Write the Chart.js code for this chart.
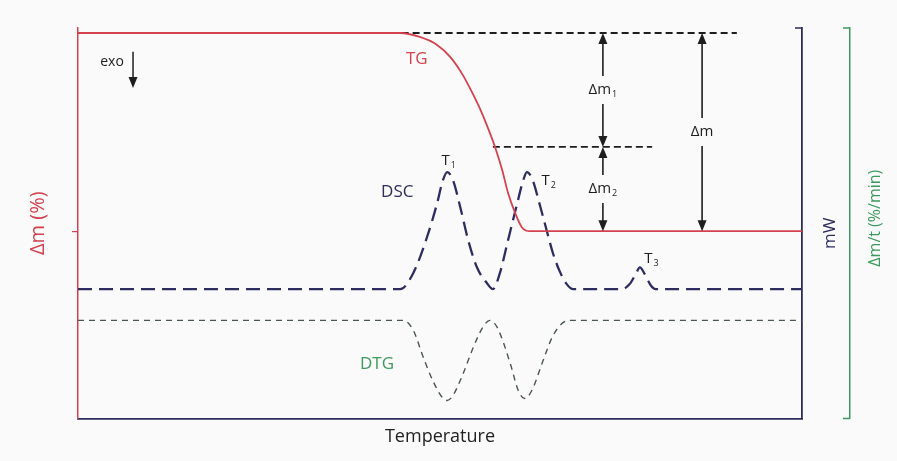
<!DOCTYPE html>
<html>
<head>
<meta charset="utf-8">
<script src="https://cdn.jsdelivr.net/npm/chart.js@4.4.1/dist/chart.umd.min.js"></script>
<style>
  html, body { margin: 0; padding: 0; background: #fafafa; }
  #wrap { width: 897px; height: 461px; }
</style>
</head>
<body>
<div id="wrap"><canvas id="myChart"></canvas></div>
<script>
// TG curve (mass %) against temperature
var tgTemp = [0, 445, 472, 496, 514, 530, 544, 558, 569, 576, 586, 594, 604, 613, 624, 1000];
var tgMass = [100, 100, 99.2, 97.6, 95.2, 91.9, 88.1, 83.8, 79.8, 77.0, 72.3, 67.7, 63.6, 60.8, 60, 60];

// DSC curve (mW)
var dscTemp = [0, 445, 463, 482, 496, 504, 510, 518, 528, 539, 551, 565, 573,
               583, 593, 606, 615, 620, 627, 638, 648, 656, 666, 675, 684,
               751, 762, 771, 776, 783, 791, 798, 1000];
var dscHeat = [3.31, 3.31, 3.72, 4.64, 5.51, 6.10, 6.31, 6.10, 5.41, 4.56, 3.87, 3.46, 3.31,
               3.74, 4.49, 5.46, 6.10, 6.31, 6.15, 5.46, 4.77, 4.23, 3.74, 3.44, 3.31,
               3.31, 3.44, 3.72, 3.87, 3.69, 3.41, 3.31, 3.31];

// DTG curve (%/min)
var dtgTemp = [0, 449, 463, 477, 490, 503, 510, 518, 532, 546, 559, 569,
               579, 597, 608, 617, 627, 641, 655, 669, 680, 1000];
var dtgRate = [-7.49, -7.49, -7.74, -8.44, -9.03, -9.46, -9.54, -9.41, -8.85, -8.18, -7.67, -7.49,
               -7.67, -8.59, -9.28, -9.49, -9.28, -8.59, -7.92, -7.56, -7.49, -7.49];

// mass levels and the steps between them
var massStart = 100, massMid = 77, massEnd = 60;
var stepTemp = [725, 862];   // where the Δm arrows stand
var levelTop = [447, 910];   // dashed line at massStart
var levelMid = [573, 793];   // dashed line at massMid

var red = '#d3424e', navy = '#2d2d5f', green = '#3d9a5e', ink = '#1e1e1e';
var FONT = "'Open Sans', sans-serif";

function pts(xs, ys) {
    return xs.map(function (x, i) { return {x: x, y: ys[i]}; });
}

function drawText(ctx, txt, sub, x, y, size, color) {
    ctx.font = size + 'px ' + FONT;
    var w = ctx.measureText(txt).width;
    var sw = 0, ss = Math.round(size * 0.62);
    if (sub) { ctx.font = ss + 'px ' + FONT; sw = ctx.measureText(sub).width + 1; }
    var x0 = x - (w + sw) / 2;
    ctx.fillStyle = color;
    ctx.textAlign = 'left';
    ctx.textBaseline = 'middle';
    ctx.font = size + 'px ' + FONT;
    ctx.fillText(txt, x0, y);
    if (sub) {
        ctx.font = ss + 'px ' + FONT;
        ctx.fillText(sub, x0 + w + 1, y + size * 0.32);
    }
}

function head(ctx, x, y, dir) {
    // tip at (x, y); dir -1 points up, +1 points down
    ctx.beginPath();
    ctx.moveTo(x, y);
    ctx.lineTo(x - 4.5, y - dir * 11);
    ctx.lineTo(x + 4.5, y - dir * 11);
    ctx.closePath();
    ctx.fill();
}

var notes = {
    id: 'notes',
    afterDatasetsDraw: function (chart) {
        var ctx = chart.ctx, s = chart.scales;
        var X = function (v) { return s.x.getPixelForValue(v); };
        ctx.save();

        // curve labels
        drawText(ctx, 'TG', null, X(468), s.y.getPixelForValue(94.7), 17, red);
        drawText(ctx, 'DSC', null, X(441), s.y2.getPixelForValue(5.8), 17, navy);
        drawText(ctx, 'DTG', null, X(413), s.y3.getPixelForValue(-8.62), 17, green);
        drawText(ctx, 'T', '1', X(512), s.y2.getPixelForValue(6.6), 15, ink);
        drawText(ctx, 'T', '2', X(650), s.y2.getPixelForValue(6.08), 15, ink);
        drawText(ctx, 'T', '3', X(792), s.y2.getPixelForValue(4.1), 15, ink);

        // exo arrow
        drawText(ctx, 'exo', null, X(47), s.y.getPixelForValue(94.1), 14, ink);
        ctx.strokeStyle = ink; ctx.fillStyle = ink; ctx.lineWidth = 1.5;
        var ax = X(76), ay1 = s.y.getPixelForValue(96.2), ay2 = s.y.getPixelForValue(88.9);
        ctx.beginPath(); ctx.moveTo(ax, ay1); ctx.lineTo(ax, ay2 - 6); ctx.stroke();
        head(ctx, ax, ay2, 1);

        // Δm arrows
        var steps = [
            {x: stepTemp[0], a: massStart, b: massMid, t: 'Δm', sub: '1'},
            {x: stepTemp[0], a: massMid, b: massEnd, t: 'Δm', sub: '2'},
            {x: stepTemp[1], a: massStart, b: massEnd, t: 'Δm', sub: null}
        ];
        steps.forEach(function (st) {
            var px = X(st.x), y1 = s.y.getPixelForValue(st.a), y2 = s.y.getPixelForValue(st.b);
            var mid = (y1 + y2) / 2, gap = 14;
            ctx.strokeStyle = ink; ctx.fillStyle = ink; ctx.lineWidth = 1.6;
            ctx.beginPath();
            ctx.moveTo(px, y1 + 8); ctx.lineTo(px, mid - gap);
            ctx.moveTo(px, mid + gap); ctx.lineTo(px, y2 - 8);
            ctx.stroke();
            head(ctx, px, y1, -1);
            head(ctx, px, y2, 1);
            drawText(ctx, st.t, st.sub, px, mid, 15, ink);
        });

        // axis end caps
        ctx.lineWidth = 1.5;
        ctx.strokeStyle = navy;
        ctx.beginPath(); ctx.moveTo(s.y2.left - 7, s.y2.top); ctx.lineTo(s.y2.left, s.y2.top); ctx.stroke();
        ctx.strokeStyle = green;
        ctx.beginPath();
        ctx.moveTo(s.y3.left - 7, s.y3.top); ctx.lineTo(s.y3.left, s.y3.top);
        ctx.moveTo(s.y3.left - 7, s.y3.bottom); ctx.lineTo(s.y3.left, s.y3.bottom);
        ctx.stroke();

        // right-hand axis titles, read bottom to top
        var mid2 = (s.y2.top + s.y2.bottom) / 2;
        [[s.y2.left + 28, mid2 + 10, 'mW', navy, 17], [s.y3.left + 25, mid2 - 5, 'Δm/t (%/min)', green, 16]].forEach(function (t) {
            ctx.save();
            ctx.translate(t[0], t[1]);
            ctx.rotate(-Math.PI / 2);
            ctx.font = t[4] + 'px ' + FONT;
            ctx.fillStyle = t[3];
            ctx.textAlign = 'center';
            ctx.textBaseline = 'middle';
            ctx.fillText(t[2], 0, 0);
            ctx.restore();
        });
        ctx.restore();
    }
};

var ctx = document.getElementById('myChart').getContext('2d');
var myChart = new Chart(ctx, {
    type: 'line',
    data: {
        datasets: [
            {
                label: 'TG',
                data: pts(tgTemp, tgMass),
                yAxisID: 'y',
                borderColor: red,
                borderWidth: 1.8,
                cubicInterpolationMode: 'monotone',
                pointRadius: 0
            },
            {
                label: 'DSC',
                data: pts(dscTemp, dscHeat),
                yAxisID: 'y2',
                borderColor: navy,
                borderWidth: 2.3,
                borderDash: [14, 7],
                cubicInterpolationMode: 'monotone',
                pointRadius: 0
            },
            {
                label: 'DTG',
                data: pts(dtgTemp, dtgRate),
                yAxisID: 'y3',
                borderColor: '#4a5750',
                borderWidth: 1.4,
                borderDash: [6, 5],
                cubicInterpolationMode: 'monotone',
                pointRadius: 0
            },
            {
                label: 'start level',
                data: pts(levelTop, [massStart, massStart]),
                yAxisID: 'y',
                borderColor: ink,
                borderWidth: 1.8,
                borderDash: [7, 4],
                pointRadius: 0
            },
            {
                label: 'mid level',
                data: pts(levelMid, [massMid, massMid]),
                yAxisID: 'y',
                borderColor: ink,
                borderWidth: 1.8,
                borderDash: [7, 4],
                pointRadius: 0
            }
        ]
    },
    options: {
        responsive: true,
        maintainAspectRatio: false,
        animation: false,
        layout: { padding: { top: 28, left: 0, right: 6, bottom: 0 } },
        plugins: { legend: { display: false }, tooltip: { enabled: false } },
        scales: {
            x: {
                type: 'linear',
                min: 0,
                max: 1000,
                grid: { display: false },
                ticks: { display: false },
                border: { color: navy, width: 1.8 },
                title: {
                    display: true,
                    text: 'Temperature',
                    color: '#222',
                    font: { family: FONT, size: 18 },
                    padding: { top: 0, bottom: 13 }
                }
            },
            y: {
                position: 'left',
                min: 22.22,
                max: 101.01,
                afterBuildTicks: function (axis) { axis.ticks = [{value: massEnd}]; },
                grid: { drawOnChartArea: false, drawTicks: true, tickLength: 6, color: red, lineWidth: 1.2 },
                ticks: { display: false },
                border: { color: red, width: 1.5 },
                title: {
                    display: true,
                    text: 'Δm (%)',
                    color: red,
                    font: { family: FONT, size: 20 },
                    padding: { top: 26, bottom: 22 }
                }
            },
            y2: {
                position: 'right',
                min: 0,
                max: 10,
                grid: { display: false },
                ticks: { display: false },
                border: { color: navy, width: 1.8 },
                afterFit: function (axis) { axis.width = 48; }
            },
            y3: {
                position: 'right',
                min: -10,
                max: 0,
                grid: { display: false },
                ticks: { display: false },
                border: { color: green, width: 1.5 },
                afterFit: function (axis) { axis.width = 41; }
            }
        }
    },
    plugins: [notes]
});
</script>
</body>
</html>
